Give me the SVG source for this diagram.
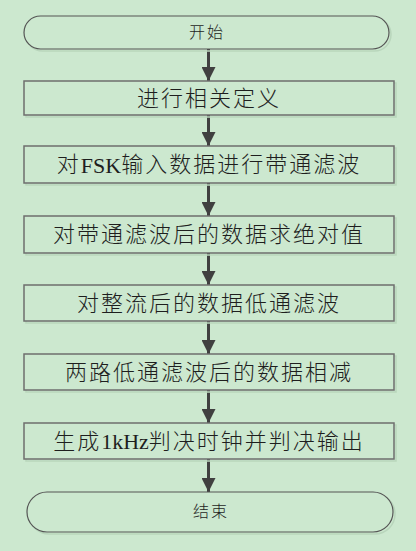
<svg xmlns="http://www.w3.org/2000/svg" width="416" height="551" viewBox="0 0 416 551">
<defs>
<style>
.bg{fill:#cce8cf}
.box{fill:#cce8cf;stroke:#6e6e6e;stroke-width:1.5}
.term{fill:#cce8cf;stroke:#555;stroke-width:1.2}
.shadow{fill:none;stroke:#b9d6bc;stroke-width:1.5}
.t{font-family:"Liberation Serif","Noto Sans CJK SC",serif;font-size:22px;font-weight:300;fill:#1e1e1e;text-anchor:middle;dominant-baseline:central;letter-spacing:2px}
.ts{font-family:"Liberation Serif","Noto Sans CJK SC",serif;font-size:16px;font-weight:300;fill:#1e1e1e;text-anchor:middle;dominant-baseline:central;letter-spacing:2px}
.lat{letter-spacing:0px}
.c{stroke:#404040;stroke-width:3;fill:none}
</style>
<marker id="ah" markerWidth="14" markerHeight="14" viewBox="0 0 14 14" refX="14" refY="7" orient="auto" markerUnits="userSpaceOnUse">
<path d="M0,0 L14,7 L0,14 Z" fill="#404040"/>
</marker>
</defs>
<rect class="bg" x="0" y="0" width="416" height="551"/>
<g id="connectors">
<line class="c" x1="208.5" y1="49" x2="208.5" y2="81" marker-end="url(#ah)"/>
<line class="c" x1="208.5" y1="115" x2="208.5" y2="146" marker-end="url(#ah)"/>
<line class="c" x1="208.5" y1="183" x2="208.5" y2="216" marker-end="url(#ah)"/>
<line class="c" x1="208.5" y1="253" x2="208.5" y2="285" marker-end="url(#ah)"/>
<line class="c" x1="208.5" y1="321" x2="208.5" y2="354" marker-end="url(#ah)"/>
<line class="c" x1="208.5" y1="390" x2="208.5" y2="423" marker-end="url(#ah)"/>
<line class="c" x1="208.5" y1="459" x2="208.5" y2="492" marker-end="url(#ah)"/>
</g>
<g id="start">
<rect class="shadow" x="26" y="18" width="365" height="33" rx="16.5"/>
<rect class="term" x="24" y="16" width="365" height="33" rx="16.5"/>
<text class="ts" x="207" y="32.5">开始</text>
</g>
<g id="step1">
<rect class="shadow" x="26" y="83" width="370" height="34"/>
<rect class="box" x="24" y="81" width="370" height="34"/>
<text class="t" x="209" y="98">进行相关定义</text>
</g>
<g id="step2">
<rect class="shadow" x="26" y="148" width="370" height="37"/>
<rect class="box" x="24" y="146" width="370" height="37"/>
<text class="t" x="209" y="164.5">对<tspan class="lat">FSK</tspan>输入数据进行带通滤波</text>
</g>
<g id="step3">
<rect class="shadow" x="26" y="218" width="370" height="37"/>
<rect class="box" x="24" y="216" width="370" height="37"/>
<text class="t" x="209" y="234.5">对带通滤波后的数据求绝对值</text>
</g>
<g id="step4">
<rect class="shadow" x="26" y="287" width="370" height="36"/>
<rect class="box" x="24" y="285" width="370" height="36"/>
<text class="t" x="209" y="303">对整流后的数据低通滤波</text>
</g>
<g id="step5">
<rect class="shadow" x="26" y="356" width="370" height="36"/>
<rect class="box" x="24" y="354" width="370" height="36"/>
<text class="t" x="209" y="372">两路低通滤波后的数据相减</text>
</g>
<g id="step6">
<rect class="shadow" x="26" y="425" width="370" height="36"/>
<rect class="box" x="24" y="423" width="370" height="36"/>
<text class="t" x="209" y="441">生成<tspan class="lat">1kHz</tspan>判决时钟并判决输出</text>
</g>
<g id="end">
<rect class="shadow" x="29" y="494" width="366" height="40" rx="20"/>
<rect class="term" x="27" y="492" width="366" height="40" rx="20"/>
<text class="ts" x="211" y="511">结束</text>
</g>
</svg>
